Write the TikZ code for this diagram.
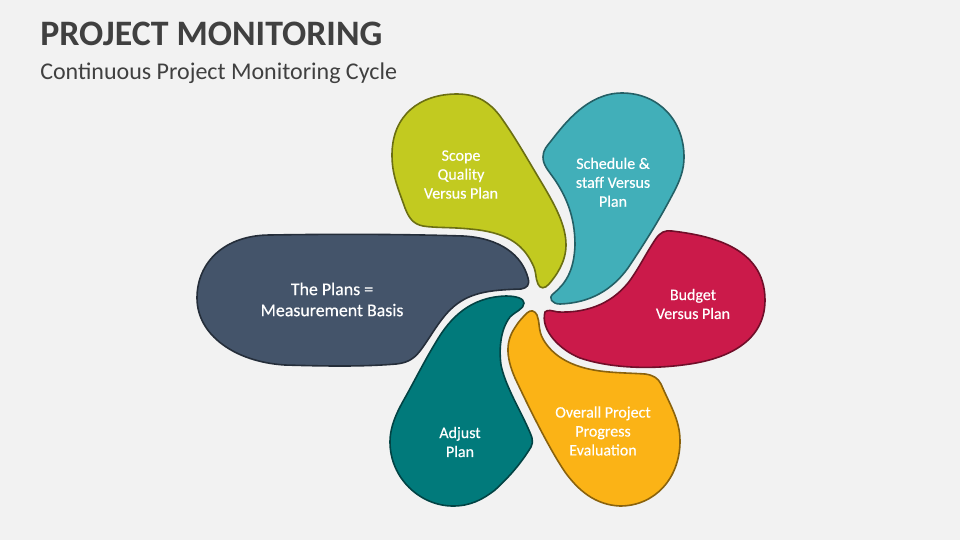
\documentclass[tikz,border=0pt]{standalone}
\usepackage{fontspec}
\setmainfont{Carlito}
\newfontfamily\labelfont[FakeBold=0.35]{Carlito}
\definecolor{pagegray}{HTML}{F2F2F2}
\definecolor{titlegray}{HTML}{404040}
\definecolor{scopefill}{HTML}{C2CA20}
\definecolor{schedfill}{HTML}{41AFB9}
\definecolor{budgetfill}{HTML}{CB1A4A}
\definecolor{overallfill}{HTML}{FBB316}
\definecolor{adjustfill}{HTML}{017A7B}
\definecolor{plansfill}{HTML}{44546A}
\tikzset{
  petal/.style={fill=#1, draw=#1!55!black, line width=1.2pt, line join=round},
  petaltext/.style={text=white, align=center, inner sep=0pt, font=\labelfont\fontsize{12}{14.2}\selectfont},
  bigtext/.style={petaltext, font=\labelfont\fontsize{13.4}{15.8}\selectfont},
}
\begin{document}
\begin{tikzpicture}[x=0.75pt, y=-0.75pt]
  \fill [pagegray] (0,0) rectangle (960,540);
  \node [anchor=west, inner sep=0pt, text=titlegray, font=\fontsize{26.85}{32}\selectfont\bfseries] (title) at (40,34) {PROJECT MONITORING};
  \node [anchor=west, inner sep=0pt, text=titlegray, font=\fontsize{18}{22}\selectfont] (subtitle) at (40,73) {Continuous Project Monitoring Cycle};
  % plans
  \draw [petal=plansfill] (197,298) .. controls (197,262) and (225,235) .. (270,235)
    .. controls (330,234) and (400,234) .. (463,236)
    .. controls (500,238) and (522,255) .. (528,278)
    .. controls (530,285) and (527,288) .. (521,289)
    .. controls (490,290) and (468,292) .. (450,310)
    .. controls (438,322) and (430,338) .. (420,351)
    .. controls (413,360) and (406,363) .. (396,364)
    .. controls (360,367) and (320,366) .. (285,365)
    .. controls (235,362) and (197,335) .. (197,298) -- cycle;
  % scope
  \draw [petal=scopefill] (392,155) .. controls (392,115) and (420,94) .. (457,94)
    .. controls (478,94) and (490,103) .. (500,116)
    .. controls (515,137) and (525,155) .. (540,180)
    .. controls (555,205) and (566,225) .. (566,245)
    .. controls (566,262) and (556,276) .. (549,284)
    .. controls (545,289) and (540,289) .. (538,284)
    .. controls (535,278) and (537,272) .. (532,263)
    .. controls (522,243) and (505,232) .. (470,229)
    .. controls (450,227) and (435,228) .. (423,226)
    .. controls (413,224) and (409,218) .. (405,208)
    .. controls (398,188) and (392,175) .. (392,155) -- cycle;
  % schedule
  \draw [petal=schedfill] (543,157) .. controls (543,150) and (547,146) .. (551,141)
    .. controls (565,123) and (588,93) .. (622,93)
    .. controls (658,93) and (684,120) .. (684,157)
    .. controls (684,175) and (676,188) .. (668,203)
    .. controls (655,227) and (640,250) .. (628,268)
    .. controls (612,290) and (590,303) .. (560,304)
    .. controls (552,304) and (548,298) .. (553,294)
    .. controls (565,284) and (574,272) .. (575,245)
    .. controls (575,215) and (565,195) .. (555,180)
    .. controls (548,170) and (543,165) .. (543,157) -- cycle;
  % budget
  \draw [petal=budgetfill] (545,312) .. controls (548,309) and (552,311) .. (558,312)
    .. controls (585,313) and (610,305) .. (628,283)
    .. controls (638,270) and (645,255) .. (655,240)
    .. controls (660,232) and (665,230) .. (672,231)
    .. controls (705,235) and (765,245) .. (765,300)
    .. controls (765,340) and (730,358) .. (690,364)
    .. controls (650,370) and (610,368) .. (580,358)
    .. controls (560,350) and (540,330) .. (545,312) -- cycle;
  % overall
  \draw [petal=overallfill] (527,313) .. controls (531,309) and (535,311) .. (537,315)
    .. controls (540,322) and (538,330) .. (543,339)
    .. controls (552,355) and (570,367) .. (600,371)
    .. controls (615,373) and (630,373) .. (645,374)
    .. controls (653,375) and (658,378) .. (661,384)
    .. controls (670,405) and (680,420) .. (680,441)
    .. controls (680,478) and (655,506) .. (620,506)
    .. controls (595,505) and (578,490) .. (565,472)
    .. controls (550,450) and (530,410) .. (515,378)
    .. controls (505,355) and (506,340) .. (516,326)
    .. controls (519,321) and (523,317) .. (527,313) -- cycle;
  % adjust
  \draw [petal=adjustfill] (506,296) .. controls (515,296) and (524,298) .. (524,303)
    .. controls (524,309) and (516,311) .. (510,317)
    .. controls (500,330) and (499,350) .. (501,365)
    .. controls (505,385) and (520,410) .. (528,428)
    .. controls (532,437) and (534,441) .. (531,447)
    .. controls (520,465) and (508,478) .. (495,490)
    .. controls (482,500) and (470,506) .. (453,506)
    .. controls (420,506) and (390,478) .. (390,442)
    .. controls (390,425) and (398,410) .. (406,396)
    .. controls (416,378) and (425,360) .. (436,342)
    .. controls (450,318) and (470,297) .. (506,296) -- cycle;
  % labels
  \node [bigtext] (plans) at (332,299.5) {The Plans =\\Measurement Basis};
  \node [petaltext] (scope) at (461,174.5) {Scope\\Quality\\Versus Plan};
  \node [petaltext] (sched) at (613,182.3) {Schedule \&\\staff Versus\\Plan};
  \node [petaltext] (budget) at (693,304) {Budget\\Versus Plan};
  \node [petaltext] (overall) at (603,431) {Overall Project\\Progress\\Evaluation};
  \node [petaltext] (adjust) at (460,442) {Adjust\\Plan};
\end{tikzpicture}
\end{document}
